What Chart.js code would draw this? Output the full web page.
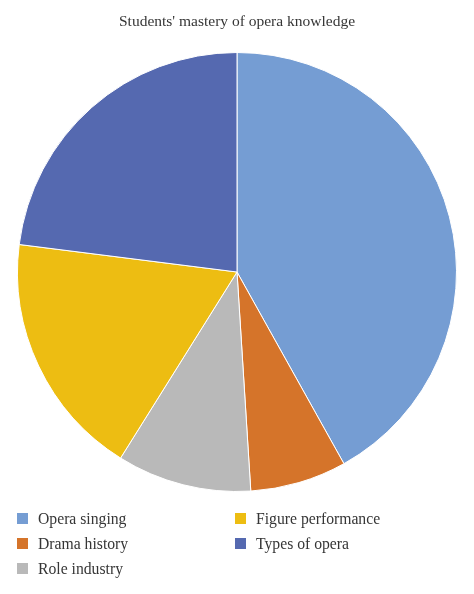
<!DOCTYPE html>
<html>
<head>
<meta charset="utf-8">
<script src="https://cdn.jsdelivr.net/npm/chart.js@4"></script>
<style>
  html, body { margin: 0; padding: 0; background: #fff; }
  #wrap { position: relative; width: 474px; height: 594px; }
  #c { position: absolute; left: 0; top: 0; }
  .leg { position: absolute; font-family: "Liberation Serif", "DejaVu Serif", serif; font-size: 15.7px; color: #363636; line-height: 18px; white-space: nowrap; }
  .sw { position: absolute; width: 11px; height: 11px; }
</style>
</head>
<body>
<div id="wrap">
  <canvas id="c" width="474" height="594"></canvas>
</div>
<script>
const title = "Students' mastery of opera knowledge";
const categories = ["Opera singing", "Drama history", "Role industry", "Figure performance", "Types of opera"];
const values = [41.9, 7.1, 9.9, 18.1, 23.0];
const colors = ["#759dd3", "#d5742a", "#b9b9b9", "#edbd12", "#5569b0"];
const legendOrder = [[0, 1, 2], [3, 4]];

const ctx = document.getElementById('c').getContext('2d');
new Chart(ctx, {
  type: 'pie',
  data: {
    labels: categories,
    datasets: [{
      data: values,
      backgroundColor: colors,
      borderColor: '#ffffff',
      borderWidth: 1
    }]
  },
  options: {
    responsive: false,
    animation: false,
    layout: { padding: { top: 0, bottom: 102, left: 0, right: 0 } },
    plugins: {
      legend: { display: false },
      tooltip: { enabled: false },
      title: {
        display: true,
        text: title,
        color: '#363636',
        font: { family: "'Liberation Serif', 'DejaVu Serif', serif", size: 15.5, weight: 'normal', lineHeight: 1.2 },
        padding: { top: 13, bottom: 20.4 }
      }
    }
  }
});

// HTML legend built from the same arrays (two columns)
const wrap = document.getElementById('wrap');
const colX = [17, 235];
const rowY = [513, 538, 563];
legendOrder.forEach((col, ci) => {
  col.forEach((idx, ri) => {
    const sw = document.createElement('div');
    sw.className = 'sw';
    sw.style.left = colX[ci] + 'px';
    sw.style.top = rowY[ri] + 'px';
    sw.style.background = colors[idx];
    wrap.appendChild(sw);
    const t = document.createElement('div');
    t.className = 'leg';
    t.style.left = (colX[ci] + 21) + 'px';
    t.style.top = (rowY[ri] - 3) + 'px';
    t.textContent = categories[idx];
    wrap.appendChild(t);
  });
});
</script>
</body>
</html>
